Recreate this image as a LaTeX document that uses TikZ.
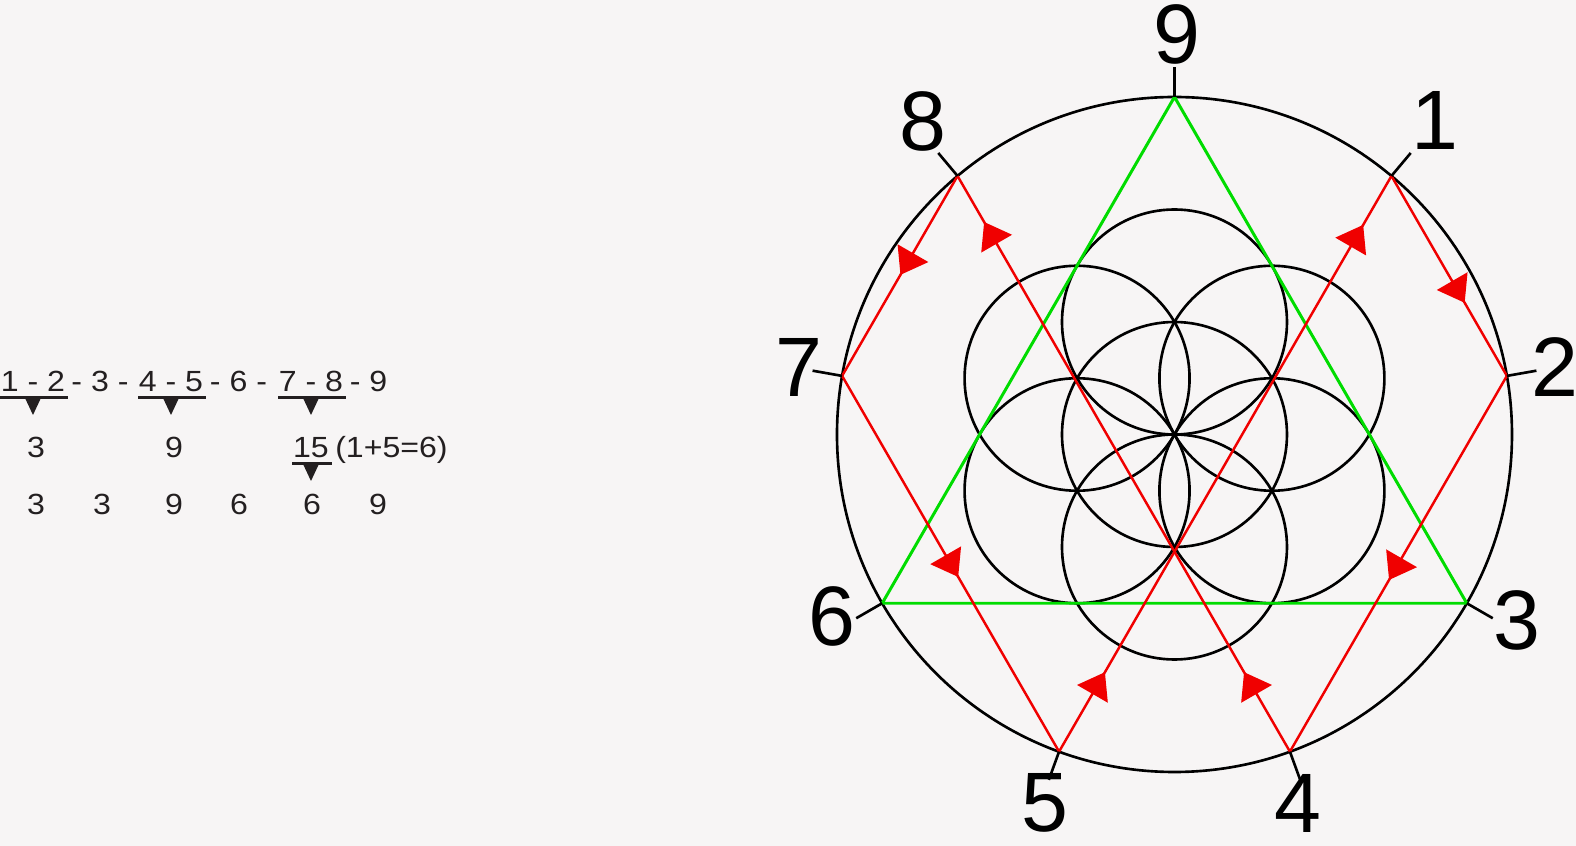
\documentclass[tikz,border=0pt]{standalone}
\usepackage{fontspec}
\setmainfont{Liberation Sans}
\newfontfamily\smallfont[FakeStretch=1.1]{Liberation Sans}
\usepackage{tikz}
\usetikzlibrary{arrows.meta}
\usetikzlibrary{decorations.markings}
\definecolor{bgcol}{RGB}{247,245,245}
\definecolor{myred}{RGB}{240,0,0}
\definecolor{mygreen}{RGB}{0,220,0}
\definecolor{ink}{RGB}{35,31,32}
\tikzstyle{ring} = [draw=black, line width=0.75pt]
\tikzstyle{triline} = [draw=mygreen, line width=0.85pt]
\tikzstyle{redline} = [draw=myred, line width=0.7pt]
\tikzstyle{digitlabel} = [font=\fontsize{24}{24}\selectfont, inner sep=0pt]
\tikzstyle{sumtext} = [font=\smallfont\fontsize{8.3}{10}\selectfont, text=ink, inner sep=0pt, anchor=base]
\tikzstyle{uline} = [draw=ink, line width=0.85pt]
\tikzset{flowat/.style={postaction={decorate, decoration={markings, mark=at position #1 with {\arrow{Triangle[length=0.25cm, width=0.35cm]}}}}}}

\begin{document}
\begin{tikzpicture}
                    \useasboundingbox (-11.745,-4.115) rectangle (4.015,4.345);
                    \fill[bgcol] (-11.745,-4.115) rectangle (4.015,4.345);

                    \foreach \n/\a in {9/90, 1/50, 2/10, 3/-30, 4/-70, 5/-110, 6/-150, 7/170, 8/130} {
                        \coordinate (p\n) at (\a:3.375);
                        \coordinate (t\n) at (\a:3.675);
                    }

                    \draw[ring] (0,0) circle (3.375);
                    \draw[ring] (0,0) circle (1.125);
                    \foreach \a in {30,90,...,330}
                        \draw[ring] (\a:1.125) circle (1.125);

                    \draw[triline] (p9) -- (p3) -- (p6) -- cycle;

                    \draw[redline, flowat=0.635] (p1) -- (p2);
                    \draw[redline, flowat=0.543] (p2) -- (p4);
                    \draw[redline, flowat=0.138, flowat=0.92] (p4) -- (p8);
                    \draw[redline, flowat=0.495] (p8) -- (p7);
                    \draw[redline, flowat=0.535] (p7) -- (p5);
                    \draw[redline, flowat=0.138, flowat=0.915] (p5) -- (p1);

                    \foreach \n in {1,...,9}
                        \draw[ring] (p\n) -- (t\n);

                    \node (l9) [digitlabel] at (0.02, 4.0) {9};
                    \node (l1) [digitlabel] at (2.60, 3.145) {1};
                    \node (l2) [digitlabel] at (3.80, 0.67) {2};
                    \node (l3) [digitlabel] at (3.425, -1.855) {3};
                    \node (l4) [digitlabel] at (1.235, -3.69) {4};
                    \node (l5) [digitlabel] at (-1.295, -3.68) {5};
                    \node (l6) [digitlabel] at (-3.425, -1.815) {6};
                    \node (l7) [digitlabel] at (-3.755, 0.67) {7};
                    \node (l8) [digitlabel] at (-2.515, 3.13) {8};

                    \node (g12) [sumtext] at (-11.415, 0.425) {1 - 2};
                    \node (d3) [sumtext] at (-10.745, 0.425) {- 3 -};
                    \node (g45) [sumtext] at (-10.035, 0.425) {4 - 5};
                    \node (d6) [sumtext] at (-9.36, 0.425) {- 6 -};
                    \node (g78) [sumtext] at (-8.635, 0.425) {7 - 8};
                    \node (d9) [sumtext] at (-8.06, 0.425) {- 9};

                    \node (s3) [sumtext] at (-11.385, -0.235) {3};
                    \node (s9) [sumtext] at (-10.005, -0.235) {9};
                    \node (g15) [sumtext] at (-8.635, -0.235) {15};
                    \node (s6) [sumtext] at (-7.83, -0.235) {(1+5=6)};

                    \node (r1) [sumtext] at (-11.385, -0.805) {3};
                    \node (r2) [sumtext] at (-10.725, -0.805) {3};
                    \node (r3) [sumtext] at (-10.005, -0.805) {9};
                    \node (r4) [sumtext] at (-9.355, -0.805) {6};
                    \node (r5) [sumtext] at (-8.625, -0.805) {6};
                    \node (r6) [sumtext] at (-7.965, -0.805) {9};

                    \foreach \g in {g12,g45,g78,g15} {
                        \draw[uline] ([yshift=-0.055cm]\g.base west) -- ([yshift=-0.055cm, xshift=0.02cm]\g.base east);
                        \fill[ink] ([xshift=-0.075cm, yshift=-0.07cm]\g.base) -- ++(0.15,0) -- ++(-0.075,-0.16) -- cycle;
                    }
                \end{tikzpicture}
\end{document}
